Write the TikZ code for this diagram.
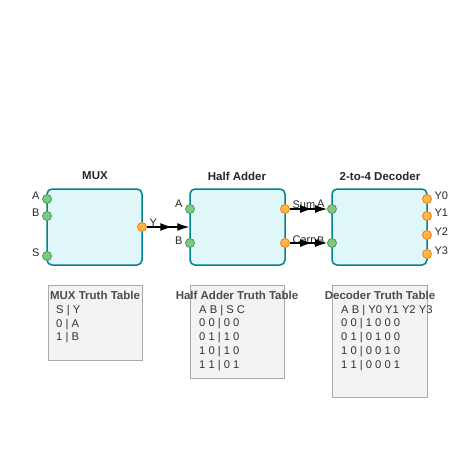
\documentclass[tikz,border=0pt]{standalone}
\usepackage{fontspec}
\setmainfont{Liberation Sans}
\usetikzlibrary{arrows.meta,decorations.markings}
\definecolor{blockfill}{HTML}{E0F7FA}
\definecolor{blockline}{HTML}{00838F}
\definecolor{infill}{HTML}{81C784}
\definecolor{inedge}{HTML}{43A047}
\definecolor{outfill}{HTML}{FFB74D}
\definecolor{outedge}{HTML}{F57C00}
\definecolor{tabfill}{HTML}{F3F3F3}
\definecolor{tabedge}{HTML}{AAAAAA}

\begin{document}
\begin{tikzpicture}[x=1pt,y=-1pt,
  block/.style={draw=blockline,fill=blockfill,line width=1.5pt,rounded corners=5pt,
                minimum width=95pt,minimum height=76pt,inner sep=0pt},
  blocktitle/.style={font=\bfseries\fontsize{11.5}{13}\selectfont,text=black!85},
  inport/.style={circle,draw=inedge,fill=infill,minimum size=9pt,inner sep=0pt,line width=0.8pt},
  outport/.style={circle,draw=outedge,fill=outfill,minimum size=9pt,inner sep=0pt,line width=0.8pt},
  plabel/.style={font=\fontsize{11}{13}\selectfont,text=black!85,inner sep=1pt,label distance=1.5pt},
  tabbox/.style={draw=tabedge,fill=tabfill,line width=1pt,inner sep=0pt,anchor=north west},
  tabtitle/.style={font=\bfseries\fontsize{11.5}{13}\selectfont,text=black!70},
  tabrow/.style={font=\fontsize{11.2}{13}\selectfont,text=black!80,anchor=base west,inner sep=0pt},
  wire/.style={line width=1.2pt,-{Latex[length=12pt,width=8pt]},
               postaction={decorate},
               decoration={markings,mark=at position 0.6 with {\arrow{Latex[length=12pt,width=8pt]}}}}
]
\useasboundingbox (0,0) rectangle (474,474);

% blocks
\node[block] (mux)  at (94.5,227) {};
\node[block] (hadd) at (237.5,227) {};
\node[block] (dec)  at (379.5,227) {};
\node[blocktitle] (muxtitle)  at (95,176)  {MUX};
\node[blocktitle] (haddtitle) at (237,176) {Half Adder};
\node[blocktitle] (dectitle)  at (380,176) {2-to-4 Decoder};

% ports
\node[inport,label={[plabel,yshift=3pt]left:A}] (muxA) at (47,199) {};
\node[inport,label={[plabel,yshift=3pt]left:B}] (muxB) at (47,216) {};
\node[inport,label={[plabel,yshift=3pt]left:S}] (muxS) at (47,256) {};
\node[outport,label={[plabel,yshift=4pt]right:Y}] (muxY) at (142,227) {};

\node[inport,label={[plabel,yshift=5pt]left:A}] (haddA) at (190,209) {};
\node[inport,label={[plabel,yshift=2pt]left:B}] (haddB) at (190,243) {};
\node[outport,label={[plabel,yshift=4pt]right:Sum}] (haddS) at (285,209) {};
\node[outport,label={[plabel,yshift=2pt]right:Carry}] (haddC) at (285,243) {};

\node[inport,label={[plabel,yshift=5pt]left:A}] (decA) at (332,209) {};
\node[inport,label={[plabel,yshift=2pt]left:B}] (decB) at (332,243) {};
\foreach \y/\n in {199/0,216/1,235/2,254/3}
  \node[outport,label={[plabel,yshift=3pt]right:Y\n}] (decY\n) at (427,\y) {};

% connectors
\draw[wire] (muxY) -- (hadd.west);
\draw[wire] (haddS) -- (decA);
\draw[wire] (haddC) -- (decB);

% truth tables
\node[tabbox,minimum width=94pt,minimum height=75pt] (muxtab) at (48,285) {};
\node[tabtitle] (muxtabtitle) at (95,295) {MUX Truth Table};
\foreach \row [count=\i] in {S | Y,0 | A,1 | B}
  \node[tabrow] (muxrow\i) at (56,300+13.6*\i) {\row};

\node[tabbox,minimum width=94pt,minimum height=93pt] (haddtab) at (190,285) {};
\node[tabtitle] (haddtabtitle) at (237,295) {Half Adder Truth Table};
\foreach \row [count=\i] in {A B | S C,0 0 | 0 0,0 1 | 1 0,1 0 | 1 0,1 1 | 0 1}
  \node[tabrow] (haddrow\i) at (199,299.5+13.7*\i) {\row};

\node[tabbox,minimum width=95pt,minimum height=112pt] (dectab) at (332,285) {};
\node[tabtitle] (dectabtitle) at (380,295) {Decoder Truth Table};
\foreach \row [count=\i] in {A B | Y0 Y1 Y2 Y3,0 0 | 1 0 0 0,0 1 | 0 1 0 0,1 0 | 0 0 1 0,1 1 | 0 0 0 1}
  \node[tabrow] (decrow\i) at (341,299.5+13.7*\i) {\row};
\end{tikzpicture}
\end{document}
